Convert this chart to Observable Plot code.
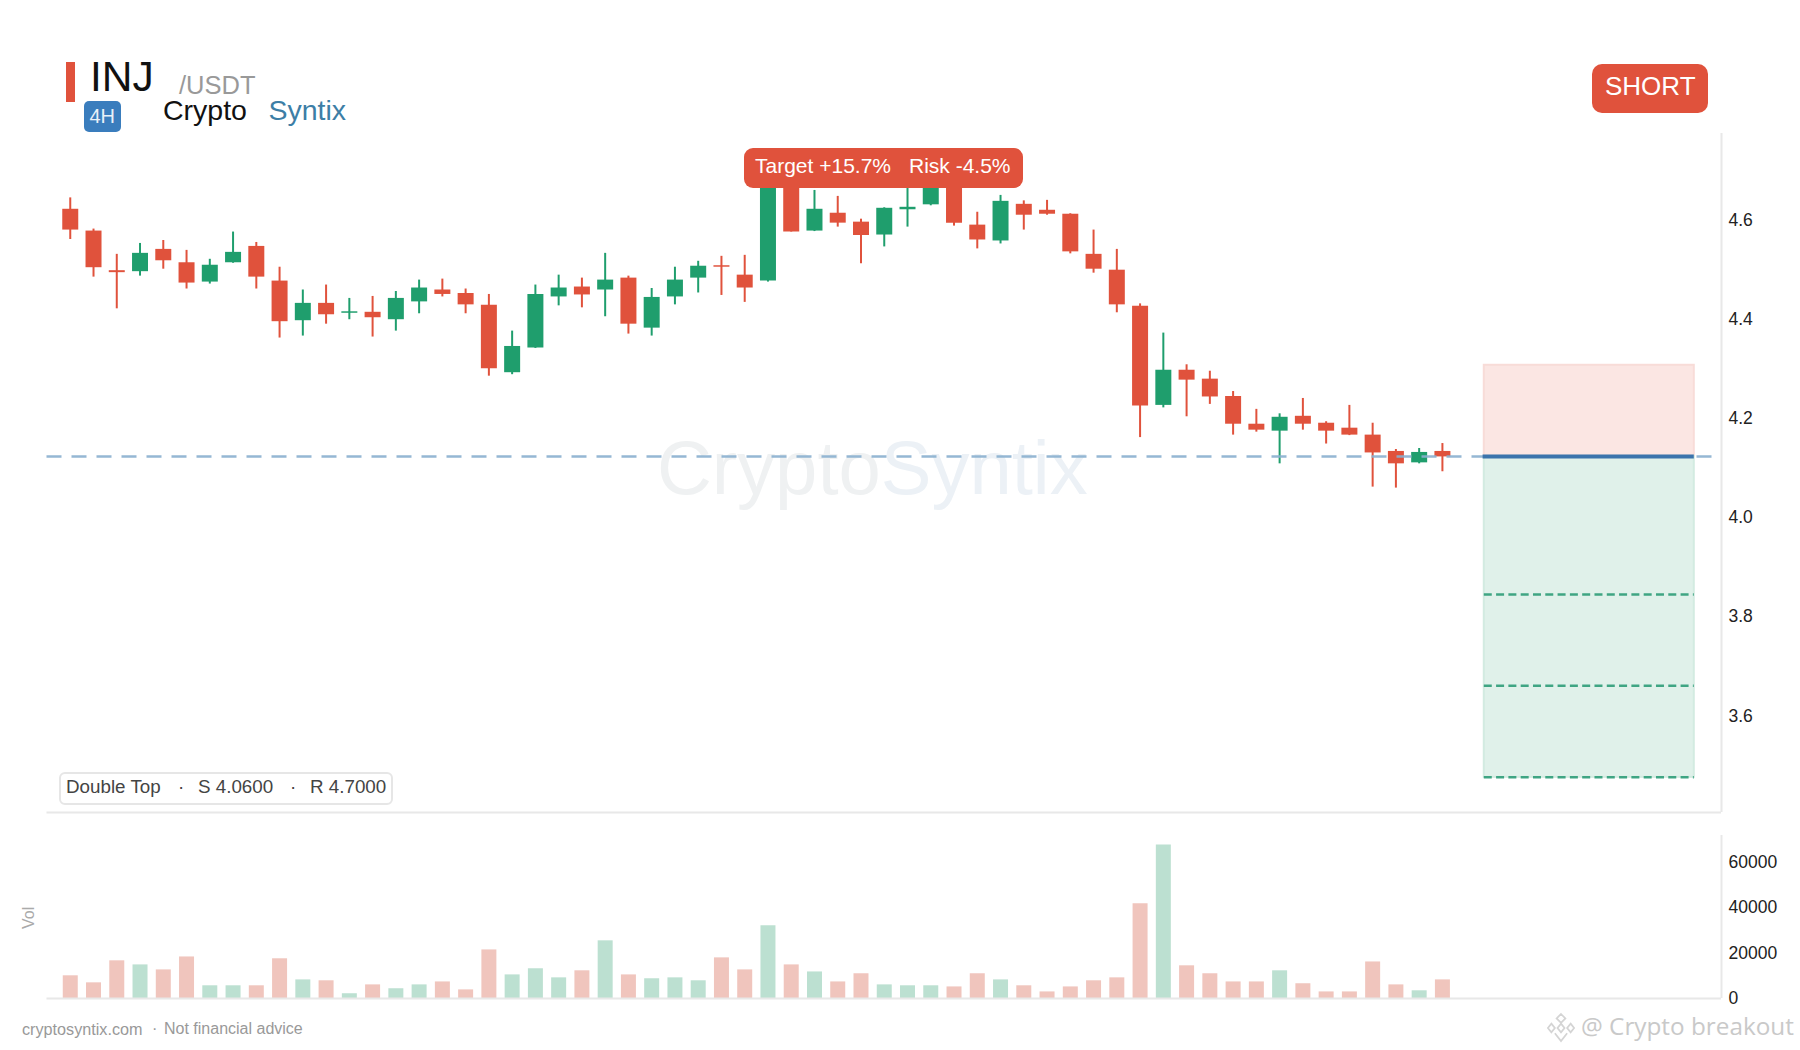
<!DOCTYPE html>
<html>
<head>
<meta charset="utf-8">
<script src="https://cdn.jsdelivr.net/npm/d3@7"></script>
<script src="https://cdn.jsdelivr.net/npm/@observablehq/plot@0.6"></script>
<style>
html,body{margin:0;padding:0;background:#fff;}
#page{position:relative;width:1800px;height:1050px;overflow:hidden;font-family:"Liberation Sans",Arial,sans-serif;background:#fff;}
#page svg.plotx{position:absolute;left:0;background:transparent;font-family:"Liberation Sans",Arial,sans-serif;}
.t{position:absolute;line-height:1;white-space:pre;}
.box{position:absolute;box-sizing:border-box;}
</style>
</head>
<body>
<div id="page"></div>
<script>
const opens = [4.623,4.579,4.499,4.497,4.542,4.515,4.476,4.515,4.548,4.478,4.398,4.433,4.413,4.415,4.400,4.436,4.460,4.453,4.429,4.293,4.343,4.446,4.466,4.460,4.484,4.383,4.446,4.484,4.509,4.490,4.478,4.690,4.579,4.615,4.597,4.571,4.622,4.632,4.700,4.591,4.559,4.633,4.621,4.613,4.532,4.500,4.427,4.227,4.298,4.280,4.245,4.189,4.175,4.205,4.191,4.181,4.167,4.134,4.111,4.134];
const closes = [4.581,4.505,4.495,4.534,4.519,4.474,4.510,4.536,4.486,4.396,4.433,4.410,4.416,4.404,4.443,4.464,4.451,4.430,4.301,4.346,4.451,4.464,4.450,4.480,4.391,4.445,4.480,4.508,4.506,4.464,4.700,4.577,4.623,4.595,4.570,4.625,4.627,4.680,4.595,4.561,4.639,4.611,4.613,4.537,4.502,4.430,4.226,4.298,4.278,4.244,4.189,4.177,4.203,4.189,4.175,4.167,4.131,4.109,4.132,4.123];
const highs = [4.646,4.583,4.532,4.554,4.560,4.540,4.522,4.577,4.556,4.506,4.460,4.470,4.443,4.447,4.457,4.480,4.482,4.462,4.451,4.377,4.470,4.490,4.484,4.534,4.488,4.463,4.506,4.518,4.528,4.530,4.705,4.700,4.661,4.649,4.603,4.626,4.670,4.690,4.710,4.617,4.651,4.640,4.641,4.614,4.581,4.542,4.432,4.373,4.309,4.296,4.255,4.219,4.210,4.241,4.194,4.227,4.191,4.138,4.140,4.150];
const lows = [4.562,4.486,4.422,4.488,4.502,4.462,4.472,4.514,4.462,4.363,4.367,4.391,4.400,4.365,4.377,4.412,4.446,4.412,4.286,4.289,4.342,4.428,4.424,4.406,4.371,4.367,4.430,4.454,4.449,4.435,4.476,4.577,4.578,4.587,4.513,4.547,4.587,4.630,4.589,4.543,4.553,4.581,4.611,4.533,4.494,4.414,4.162,4.222,4.204,4.229,4.167,4.173,4.109,4.177,4.149,4.166,4.062,4.060,4.109,4.093];
const volumes = [10000,6900,16600,14800,12600,18300,5600,5600,5600,17500,8200,7800,2100,6000,4300,6000,7300,3800,21400,10400,13100,9100,12200,25400,10400,8700,9100,7800,17900,12600,32000,14800,11700,7300,10900,6000,5600,5600,5100,10900,8200,5600,2900,5100,7800,9100,41700,67600,14400,10900,7300,7300,12200,6500,2900,2900,16100,6000,3400,8200];
const entry = 4.124;
const stopLevel = 4.308;
const targets = [3.845, 3.661, 3.476];
const priceTicks = [3.6, 3.8, 4.0, 4.2, 4.4, 4.6];
const volumeTicks = [0, 20000, 40000, 60000];
const RED = "#e0523c", GREEN = "#1f9e6d";

const candles = opens.map((o, i) => ({i, o, c: closes[i], h: highs[i], l: lows[i], v: volumes[i], up: closes[i] >= o}));
const colorOf = d => d.up ? GREEN : RED;
const volColorOf = d => d.up ? "#bce0d1" : "#f0c5bd";
const xOpts = {domain: [-1, 71], range: [46.5, 1721], axis: null};

const pricePlot = Plot.plot({
  width: 1800, height: 830, marginTop: 133, marginBottom: 18, marginLeft: 46.5, marginRight: 79,
  className: "plotx",
  x: xOpts,
  y: {domain: [3.405, 4.776], axis: null},
  marks: [
    Plot.text(["Crypto"], {x: [34.85], y: [4.097], text: d => d, textAnchor: "end", fontSize: 76, fill: "#eff1f2"}),
    Plot.text(["Syntix"], {x: [34.85], y: [4.097], text: d => d, textAnchor: "start", fontSize: 76, fill: "#ecf1f6"}),
    Plot.ruleX([0], {x: () => 71, y1: 3.405, y2: 4.776, stroke: "#e8e8e8", strokeWidth: 2}),
    Plot.ruleY([3.405], {x1: -1, x2: 71, stroke: "#e8e8e8", strokeWidth: 2}),
    Plot.rect([0], {x1: 60.8, x2: 69.83, y1: entry, y2: stopLevel, fill: "#fbe6e3", stroke: "#f8dcd8", strokeWidth: 2}),
    Plot.rect([0], {x1: 60.8, x2: 69.83, y1: targets[2], y2: entry, fill: "#e0f1ea", stroke: "#d3ebe1", strokeWidth: 2}),
    Plot.ruleX(candles, {x: "i", y1: "l", y2: "h", stroke: colorOf, strokeWidth: 2}),
    Plot.ruleX(candles, {x: "i", y1: "o", y2: "c", stroke: colorOf, strokeWidth: 16}),
    Plot.ruleY([entry], {x1: -1, x2: 70.6, stroke: "#89afcf", strokeWidth: 2.5, strokeDasharray: "15,10", strokeOpacity: 0.9}),
    Plot.ruleY([entry], {x1: 60.75, x2: 69.83, stroke: "#3b74ac", strokeWidth: 4}),
    Plot.ruleY(targets, {x1: 60.8, x2: 69.83, stroke: "#3fa583", strokeWidth: 2.5, strokeDasharray: "8,4.3"}),
    Plot.axisY({ticks: priceTicks, anchor: "right", tickSize: 0, tickPadding: 7, tickFormat: d3.format(".1f"), fontSize: 17.5, color: "#222", label: null})
  ]
});

const volumePlot = Plot.plot({
  width: 1800, height: 200, marginTop: 10, marginBottom: 27, marginLeft: 46.5, marginRight: 79,
  className: "plotx",
  x: xOpts,
  y: {domain: [0, 71800], axis: null},
  marks: [
    Plot.ruleX(candles, {x: "i", y1: 0, y2: "v", stroke: volColorOf, strokeWidth: 15}),
    Plot.ruleX([0], {x: () => 71, y1: 0, y2: 71800, stroke: "#e8e8e8", strokeWidth: 2}),
    Plot.ruleY([0], {x1: -1, x2: 71, stroke: "#e8e8e8", strokeWidth: 2}),
    Plot.axisY({ticks: volumeTicks, anchor: "right", tickSize: 0, tickPadding: 7, tickFormat: d => String(d), fontSize: 17.5, color: "#222", label: null})
  ]
});
pricePlot.style.top = "0px";
volumePlot.style.top = "825px";

const page = document.getElementById("page");
page.append(pricePlot, volumePlot);

function box(x, y, w, h, css) {
  const el = document.createElement("div");
  el.className = "box";
  el.style.cssText = `left:${x}px;top:${y}px;width:${w}px;height:${h}px;${css}`;
  page.append(el);
  return el;
}
function label(text, x, baseline, size, color, extra = "") {
  const el = document.createElement("div");
  el.className = "t";
  el.textContent = text;
  el.style.cssText = `left:${x}px;top:${baseline - 0.8465 * size}px;font-size:${size}px;color:${color};${extra}`;
  page.append(el);
  return el;
}

box(66, 62, 9, 40, `background:${RED};`);
label("INJ", 90, 92, 42.5, "#111");
label("/USDT", 179, 95, 25.5, "#999");
box(84, 101, 37, 31, "background:#3a7dbd;border-radius:5px;");
label("4H", 89.5, 123, 20, "#e8f0f8");
label("Crypto", 163, 120, 28.5, "#111");
label("Syntix", 268.5, 120, 28.5, "#3d7ea6");

box(1592, 64, 116, 49, `background:${RED};border-radius:10px;`);
label("SHORT", 1605, 95, 26, "#fff");

box(743.5, 147.5, 279, 40, `background:${RED};border-radius:9px;`);
label("Target +15.7%", 755, 173, 21, "#fff");
label("Risk -4.5%", 909, 173, 21, "#fff");

box(59, 772, 334, 33, "background:#fff;border:2px solid #e6e6e6;border-radius:6px;");
label("Double Top", 66, 794, 18.8, "#444");
label("·", 178, 794, 18.8, "#444");
label("S 4.0600", 198, 794, 18.8, "#444");
label("·", 290, 794, 18.8, "#444");
label("R 4.7000", 310, 794, 18.8, "#444");

label("Vol", 21, 932, 16, "#aaa", "transform-origin:0 0;transform:rotate(-90deg) translateX(-11px);");
label("cryptosyntix.com", 22, 1035, 16.2, "#999");
label("·", 152, 1035, 16, "#999");
label("Not financial advice", 164, 1035, 16, "#999");

page.insertAdjacentHTML("beforeend",
  `<svg style="position:absolute;left:1547px;top:1012px" width="28" height="32" viewBox="0 0 32 36" fill="none" stroke="#d4d4d4" stroke-width="2">
    <path d="M16 2 L21 7 L16 12 L11 7 Z"/><path d="M16 13 L20 18 L16 23 L12 18 Z"/><path d="M5 13 L9 18 L5 23 L1 18 Z"/><path d="M27 13 L31 18 L27 23 L23 18 Z"/><path d="M9 24 L16 33 L23 24"/></svg>`);
label("@ Crypto breakout", 1581, 1034.5, 24.3, "#c9c9c9", 'font-family:"Open Sans",sans-serif;');
</script>
</body>
</html>
